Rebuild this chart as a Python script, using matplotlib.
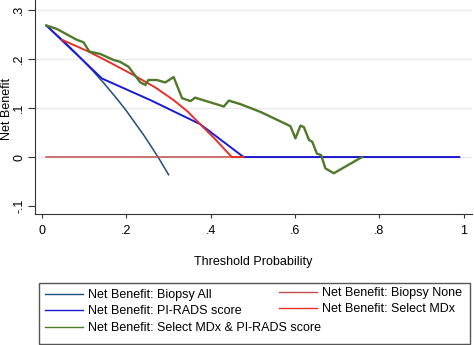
import matplotlib
matplotlib.use("Agg")
import matplotlib.pyplot as plt
from matplotlib.patches import Rectangle

# threshold probability / net benefit
all_x = [0.01, 0.05, 0.08, 0.10, 0.12, 0.15, 0.18, 0.20, 0.22, 0.24, 0.26, 0.28, 0.30]
all_y = [0.268, 0.237, 0.212, 0.194, 0.176, 0.147, 0.116, 0.094, 0.070, 0.046, 0.020,
         -0.007, -0.036]

none_x = [0.01, 0.99]
none_y = [0.0, 0.0]

pirads_x = [0.01, 0.142, 0.257, 0.375, 0.478, 0.99]
pirads_y = [0.268, 0.160, 0.116, 0.067, 0.0, 0.0]

mdx_x = [0.047, 0.11, 0.16, 0.217, 0.27, 0.312, 0.345, 0.375, 0.41, 0.45, 0.478]
mdx_y = [0.239, 0.215, 0.193, 0.167, 0.141, 0.116, 0.093, 0.067, 0.037, 0.0, 0.0]

combo_x = [0.01, 0.035, 0.082, 0.098, 0.112, 0.138, 0.169, 0.185, 0.205, 0.233,
           0.245, 0.252, 0.272, 0.292, 0.312, 0.332, 0.352, 0.363, 0.431, 0.443,
           0.470, 0.518, 0.589, 0.601, 0.613, 0.621, 0.633, 0.641, 0.652, 0.662,
           0.672, 0.692, 0.759]
combo_y = [0.268, 0.261, 0.239, 0.234, 0.215, 0.210, 0.198, 0.194, 0.184, 0.152,
           0.147, 0.157, 0.157, 0.152, 0.163, 0.120, 0.114, 0.121, 0.103, 0.115,
           0.108, 0.092, 0.063, 0.038, 0.064, 0.061, 0.035, 0.031, 0.007, 0.004,
           -0.023, -0.033, 0.0]

xticks = [0, 0.2, 0.4, 0.6, 0.8, 1.0]
xticklabels = ["0", ".2", ".4", ".6", ".8", "1"]
yticks = [-0.1, 0, 0.1, 0.2, 0.3]
yticklabels = ["-.1", "0", ".1", ".2", ".3"]

plt.rcParams["font.family"] = ["Liberation Sans", "DejaVu Sans"]

fig = plt.figure(figsize=(4.74, 3.45), dpi=100)
ax = fig.add_axes([35 / 474, 131 / 345, 437 / 474, 214 / 345])

for g in [0, 0.1, 0.2, 0.3]:
    ax.axhline(g, color="#eaeaea", lw=1.0, zorder=0)

h_all, = ax.plot(all_x, all_y, color="#1f4e79", lw=1.1, label="Net Benefit: Biopsy All")
h_none, = ax.plot(none_x, none_y, color="#c0504d", lw=1.1, label="Net Benefit: Biopsy None")
h_pi, = ax.plot(pirads_x, pirads_y, color="#1a1ad6", lw=1.4, label="Net Benefit: PI-RADS score")
h_mdx, = ax.plot(mdx_x, mdx_y, color="#e8302a", lw=1.4, label="Net Benefit: Select MDx")
h_cb, = ax.plot(combo_x, combo_y, color="#4f7a2a", lw=1.7,
                label="Net Benefit: Select MDx & PI-RADS score")

ax.set_xlim(-0.017, 1.02)
ax.set_ylim(-0.116, 0.320)
ax.set_xticks(xticks)
ax.set_xticklabels(xticklabels)
ax.set_yticks(yticks)
ax.set_yticklabels(yticklabels, rotation=90, va="center")
ax.tick_params(labelsize=9, width=0.8, color="#333333")
ax.tick_params(axis="y", length=5, pad=2)
ax.tick_params(axis="x", length=3, pad=5)
ax.spines["top"].set_visible(False)
ax.spines["right"].set_visible(False)
ax.spines["left"].set_color("#333333")
ax.spines["bottom"].set_color("#333333")
ax.set_xlabel("Threshold Probability", fontsize=9)
ax.xaxis.set_label_coords((253 - 35) / 437, -(256 - 214) / 214)
ax.set_ylabel("Net Benefit", fontsize=9)
ax.yaxis.set_label_coords(-(35 - 13) / 437, 0.49)

# legend: Stata-style box with a short second column
fig.add_artist(Rectangle((39 / 474, 1 / 345), 431 / 474, 61 / 345,
                         transform=fig.transFigure, fill=False,
                         edgecolor="#555555", lw=1.0))
leg_kw = dict(fontsize=9, frameon=False, handlelength=3.0, handletextpad=0.45,
              labelspacing=0.36, borderpad=0.0, borderaxespad=0.0)
leg1 = fig.legend([h_all, h_pi, h_cb], [h.get_label() for h in [h_all, h_pi, h_cb]],
                  loc="upper left", bbox_to_anchor=(45 / 474, 1 - 289 / 345), **leg_kw)
leg2 = fig.legend([h_none, h_mdx], [h.get_label() for h in [h_none, h_mdx]],
                  loc="upper left", bbox_to_anchor=(279 / 474, 1 - 287 / 345), **leg_kw)
for leg in (leg1, leg2):
    for line in leg.get_lines():
        line.set_linewidth(1.0)

fig.savefig("out.png", dpi=100)
